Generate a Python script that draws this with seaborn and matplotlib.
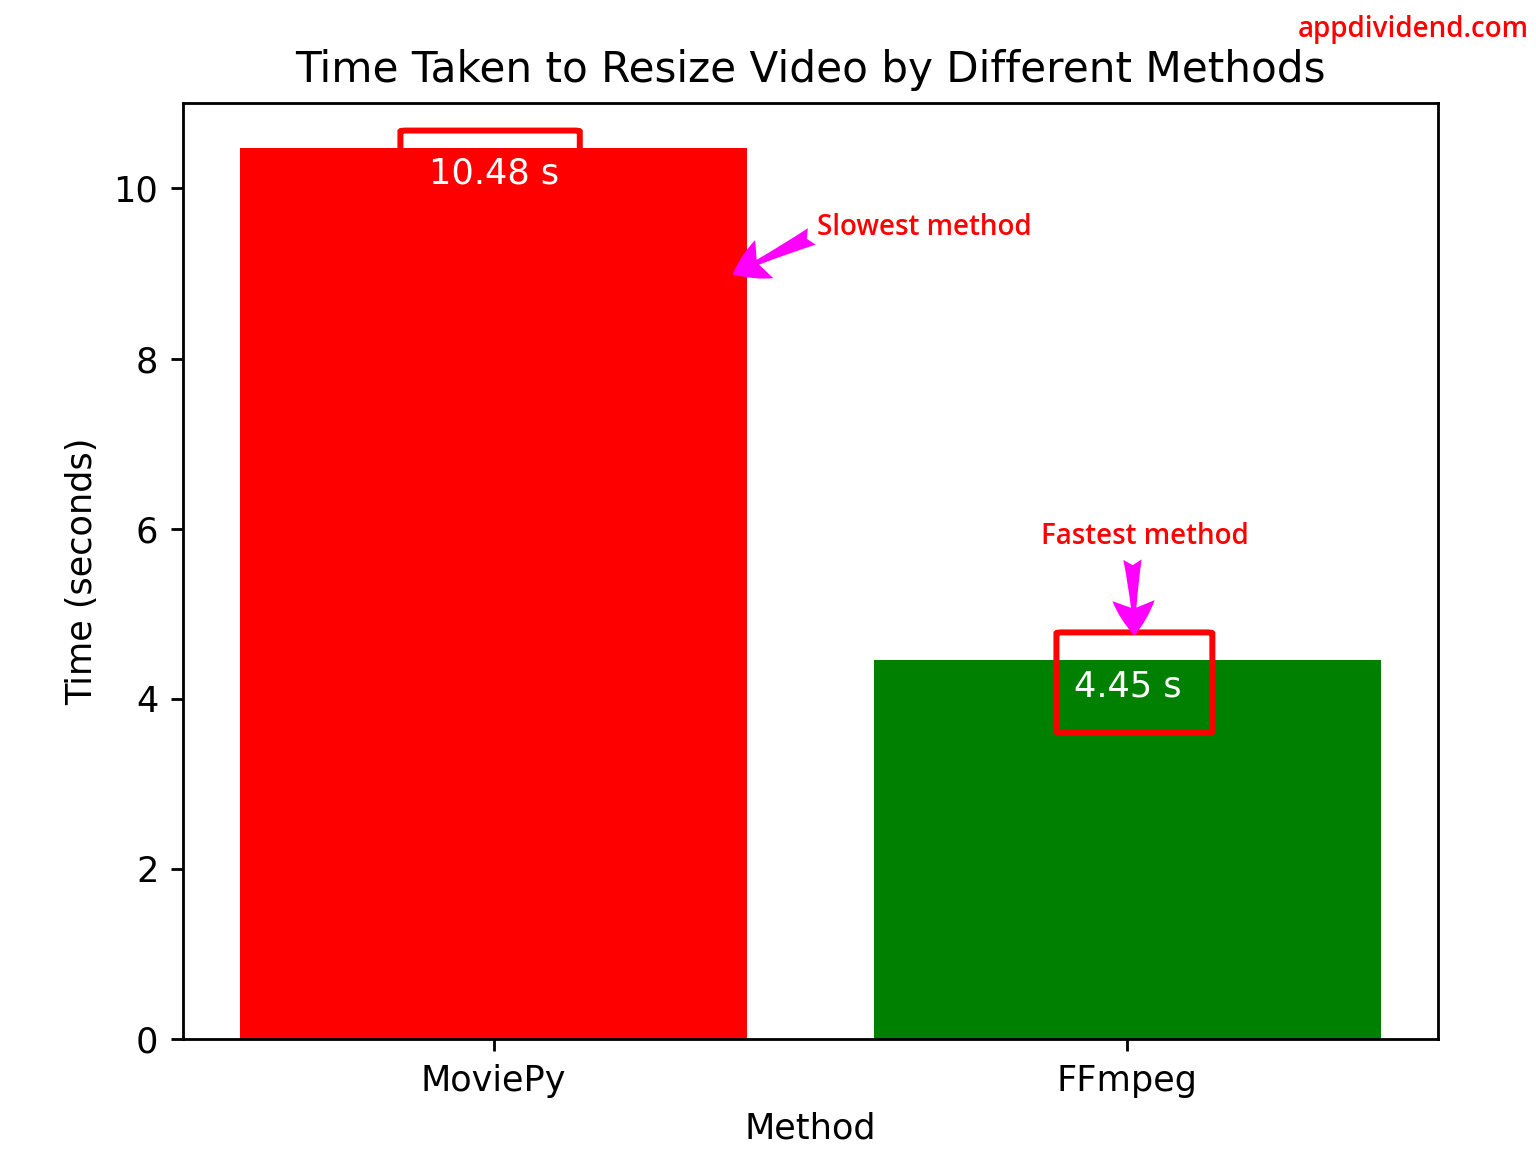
import matplotlib
matplotlib.use("Agg")
import matplotlib.pyplot as plt
from matplotlib.patches import FancyBboxPatch
import seaborn as sns
import pandas as pd

methods = ["MoviePy", "FFmpeg"]
times = [10.48, 4.45]
bar_colors = ["red", "green"]
notes = ["Slowest method", "Fastest method"]

df = pd.DataFrame({"Method": methods, "Time": times})

fig = plt.figure(figsize=(1536 / 253, 1154 / 253), dpi=253)
ax = fig.add_axes([183 / 1536, 1 - 1039 / 1154, (1438 - 183) / 1536, (1039 - 103) / 1154])

sns.barplot(data=df, x="Method", y="Time", hue="Method", palette=bar_colors,
            saturation=1, width=0.8, legend=False, ax=ax)
ax.set_xlim(-0.49, 1.49)

ax.set_title("Time Taken to Resize Video by Different Methods", fontsize=12)
ax.set_xlabel("Method")
ax.set_ylabel("Time (seconds)")

# value labels inside the bar tops
for i, t in enumerate(times):
    ax.text(i, t - 0.3, f"{t:.2f} s", ha="center", va="center",
            color="white", fontsize=10)

# red boxes round the labels (editor style markup)
box_red = "#ff0000"
ax.add_patch(FancyBboxPatch((-0.147, times[0] - 0.85), 0.283, 1.05,
                            boxstyle="round,pad=0,rounding_size=0.01",
                            fill=False, ec=box_red, lw=1.7, zorder=5))
ax.add_patch(FancyBboxPatch((1 - 0.112, times[1] - 0.85), 0.246, 1.18,
                            boxstyle="round,pad=0,rounding_size=0.01",
                            fill=False, ec=box_red, lw=1.7, zorder=5))

# arrows + notes
arrow = dict(arrowstyle="fancy,head_length=0.5,head_width=0.6,tail_width=0.26",
             color="#ff00ff", lw=0, mutation_scale=20, shrinkA=0, shrinkB=0)
ax.annotate("", xy=(0.377, 8.99), xytext=(0.502, 9.435), arrowprops=arrow, zorder=6)
ax.annotate("", xy=(1.011, 4.74), xytext=(1.008, 5.635), arrowprops=arrow, zorder=6)

note_font = dict(family="Open Sans", weight="semibold", color="red", fontsize=7.9)
ax.text(0.511, (1039 - 228) / 85, notes[0], ha="left", va="center", **note_font)
ax.text(1.027, (1039 - 537) / 85, notes[1], ha="center", va="center", **note_font)

fig.text(1529 / 1536, 1 - 29 / 1154, "appdividend.com", ha="right", va="center",
         **note_font)

plt.savefig("out.png", dpi=253)
